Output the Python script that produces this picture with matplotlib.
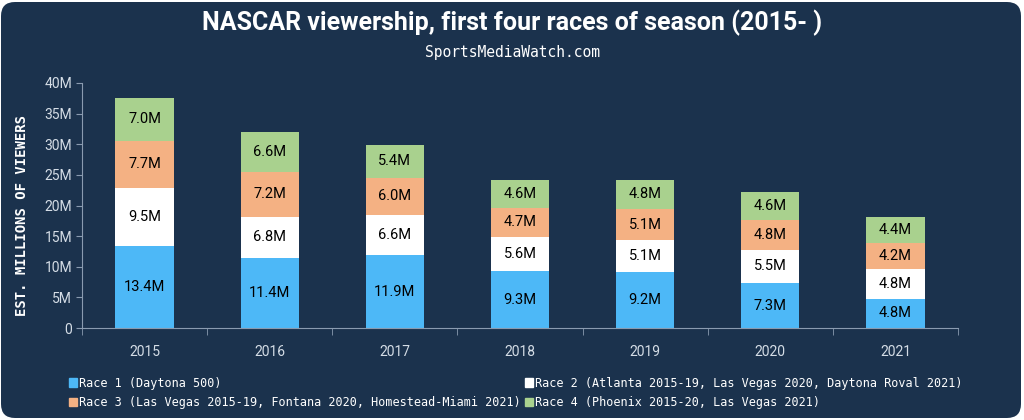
import matplotlib.pyplot as plt
import matplotlib.patches as mpatches
import numpy as np

years = ['2015', '2016', '2017', '2018', '2019', '2020', '2021']
race1 = [13.4, 11.4, 11.9, 9.3, 9.2, 7.3, 4.8]
race2 = [9.5, 6.8, 6.6, 5.6, 5.1, 5.5, 4.8]
race3 = [7.7, 7.2, 6.0, 4.7, 5.1, 4.8, 4.2]
race4 = [7.0, 6.6, 5.4, 4.6, 4.8, 4.6, 4.4]
series_names = ['Race 1 (Daytona 500)',
                'Race 2 (Atlanta 2015-19, Las Vegas 2020, Daytona Roval 2021)',
                'Race 3 (Las Vegas 2015-19, Fontana 2020, Homestead-Miami 2021)',
                'Race 4 (Phoenix 2015-20, Las Vegas 2021)']
colors = ['#4db8f7', '#ffffff', '#f4b183', '#a9d18e']

navy = '#1b324d'
light = '#d5dde6'
mono = ['DejaVu Sans Mono']
sans = ['Roboto', 'DejaVu Sans']

fig = plt.figure(figsize=(10.24, 4.2), dpi=100)
fig.patch.set_facecolor('white')
bg = mpatches.FancyBboxPatch((1, 2), 1020, 416, boxstyle='round,pad=0,rounding_size=14',
                             transform=None, facecolor=navy, edgecolor='none', zorder=-10)
fig.patches.append(bg)

ax = fig.add_axes([82 / 1024, 1 - 328 / 420, (958 - 82) / 1024, (328 - 83) / 420])
ax.set_facecolor('none')

x = np.arange(len(years))
bottom = np.zeros(len(years))
for vals, c in zip([race1, race2, race3, race4], colors):
    ax.bar(x, vals, 0.465, bottom=bottom, color=c, edgecolor='none')
    for xi, b, v in zip(x, bottom, vals):
        ax.text(xi, b + v / 2, f'{v:.1f}M', ha='center', va='center',
                fontsize=10.5, color='black', family=sans)
    bottom += np.array(vals)

ax.set_xlim(-0.5, 6.5)
ax.set_ylim(0, 40)
ax.set_yticks(range(0, 41, 5))
ax.set_yticklabels(['0'] + [f'{v}M' for v in range(5, 41, 5)])
ax.set_xticks(x)
ax.set_xticklabels(years)
ax.set_xticks(np.arange(-0.5, 7, 1), minor=True)
ax.tick_params(axis='x', which='major', length=0, pad=12, labelsize=10, labelcolor=light)
ax.tick_params(axis='x', which='minor', length=5, color='#8a9bb0', direction='out')
ax.tick_params(axis='y', length=4, color='#8a9bb0', labelsize=10, labelcolor=light, pad=3)
for lbl in ax.get_xticklabels() + ax.get_yticklabels():
    lbl.set_family(sans)
for s in ['top', 'right']:
    ax.spines[s].set_visible(False)
for s in ['left', 'bottom']:
    ax.spines[s].set_color('#8a9bb0')

fig.text(22 / 1024, 1 - 215 / 420, 'EST. MILLIONS OF VIEWERS', rotation=90, ha='center', va='center',
         color='white', fontsize=10, fontweight='bold', family=mono)

fig.text(0.5, 1 - 23 / 420, 'NASCAR viewership, first four races of season (2015- )', ha='center',
         va='center', color='white', fontsize=18, fontweight='bold',
         family=['Liberation Sans Narrow', 'Roboto', 'DejaVu Sans'])
fig.text(0.5, 1 - 52 / 420, 'SportsMediaWatch.com', ha='center', va='center', color='white',
         fontsize=10.5, family=mono)

handles = [mpatches.Patch(color=c) for c in colors]
order = [0, 2, 1, 3]
leg = fig.legend([handles[i] for i in order], [series_names[i] for i in order], ncol=2,
                 loc='upper left', bbox_to_anchor=(58 / 1024, 1 - 366 / 420), frameon=False,
                 handlelength=0.7, handleheight=0.7, handletextpad=0.2, columnspacing=0.3,
                 labelspacing=0.55, prop={'family': mono, 'size': 8.5})
for t in leg.get_texts():
    t.set_color('white')

fig.savefig('out.png', dpi=100, facecolor=fig.get_facecolor())
